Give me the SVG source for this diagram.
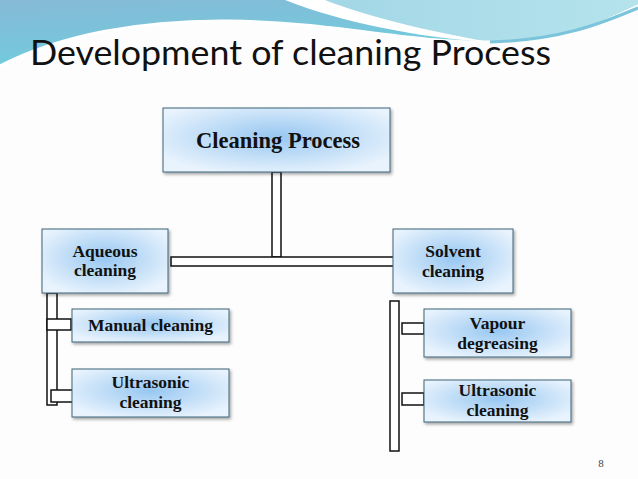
<svg xmlns="http://www.w3.org/2000/svg" width="638" height="479" viewBox="0 0 638 479">
<defs>
<linearGradient id="bgL" x1="0" y1="0" x2="0.6" y2="1">
<stop offset="0" stop-color="#86b9d6"/>
<stop offset="1" stop-color="#6cd0df"/>
</linearGradient>
<linearGradient id="bgR" x1="0" y1="0" x2="1" y2="0">
<stop offset="0" stop-color="#a2d6e6"/>
<stop offset="1" stop-color="#b4e3ec"/>
</linearGradient>
<radialGradient id="boxg" cx="0.5" cy="0.45" r="0.6">
<stop offset="0" stop-color="#97c7f1"/>
<stop offset="1" stop-color="#e8f3fd"/>
</radialGradient>
<filter id="sh" x="-10%" y="-10%" width="125%" height="135%">
<feDropShadow dx="1.5" dy="2" stdDeviation="1.5" flood-color="#000" flood-opacity="0.35"/>
</filter>
</defs>
<style>
.box{fill:url(#boxg);stroke:#3d6478;stroke-width:1;filter:url(#sh)}
.bar{fill:#fff;stroke:#111;stroke-width:1.5}
.lbl{font-family:"Liberation Serif",serif;font-weight:bold;fill:#111;text-anchor:middle;font-size:17.5px}
</style>
<rect width="638" height="479" fill="#fdfdfd"/>
<g id="background">
<path d="M0,0 H638 V4 C600,22 560,40 490,42 C420,44 330,22 230,21 C140,20 60,35 0,66 Z" fill="url(#bgL)"/>
<path d="M300,0 H638 V4 C600,22 560,40 490,42 C440,40 380,30 330,12 Z" fill="url(#bgR)"/>
<path d="M285,0 C340,22 420,38 490,42 C420,30 360,14 325,0 Z" fill="#ffffff"/>
<path d="M490,42 C560,40 600,24 638,8" fill="none" stroke="#7cc4dc" stroke-width="3"/>
<path d="M0,66 C60,35 140,20 230,21 C330,22 420,44 490,42" fill="none" stroke="#ffffff" stroke-width="3"/>
</g>
<text x="30" y="65" font-family="Lato,'Open Sans',sans-serif" font-size="35" fill="#111" textLength="521" lengthAdjust="spacingAndGlyphs">Development of cleaning Process</text>
<g id="connectors">
<rect class="bar" x="272" y="172" width="9" height="85"/>
<rect class="bar" x="171" y="257" width="223" height="9"/>
<rect class="bar" x="47" y="293" width="10" height="112"/>
<rect class="bar" x="47" y="319" width="24" height="11"/>
<rect class="bar" x="51" y="390" width="22" height="12"/>
<rect class="bar" x="390" y="301" width="9" height="150"/>
<rect class="bar" x="402" y="323" width="22" height="11"/>
<rect class="bar" x="402" y="393" width="22" height="12"/>
</g>
<g id="cleaning-process">
<rect class="box" x="163" y="108" width="227" height="64"/>
<text class="lbl" x="278" y="148" style="font-size:22.5px">Cleaning Process</text>
</g>
<g id="aqueous">
<rect class="box" x="42" y="229" width="126" height="64"/>
<text class="lbl" x="105" y="256.5">Aqueous</text>
<text class="lbl" x="105" y="276">cleaning</text>
</g>
<g id="solvent">
<rect class="box" x="393" y="229" width="120" height="64"/>
<text class="lbl" x="453" y="257">Solvent</text>
<text class="lbl" x="453" y="277">cleaning</text>
</g>
<g id="manual">
<rect class="box" x="72" y="309" width="157" height="33"/>
<text class="lbl" x="150.5" y="331">Manual cleaning</text>
</g>
<g id="ultrasonic-left">
<rect class="box" x="72" y="369" width="157" height="48"/>
<text class="lbl" x="150.5" y="388">Ultrasonic</text>
<text class="lbl" x="150.5" y="408">cleaning</text>
</g>
<g id="vapour">
<rect class="box" x="424" y="309" width="147" height="48"/>
<text class="lbl" x="497.5" y="328.5">Vapour</text>
<text class="lbl" x="497.5" y="348.5">degreasing</text>
</g>
<g id="ultrasonic-right">
<rect class="box" x="424" y="380" width="147" height="42"/>
<text class="lbl" x="497.5" y="395.5">Ultrasonic</text>
<text class="lbl" x="497.5" y="415.5">cleaning</text>
</g>
<text x="601" y="467" font-family="'Liberation Serif',serif" font-size="11" fill="#444" text-anchor="middle">8</text>
</svg>
